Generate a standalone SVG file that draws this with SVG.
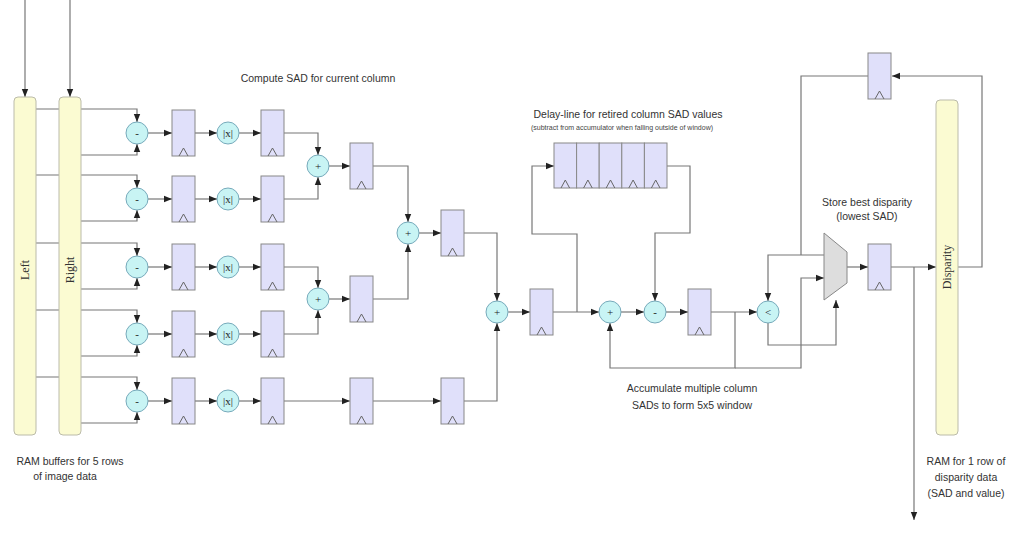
<svg xmlns="http://www.w3.org/2000/svg" width="1016" height="536" viewBox="0 0 1016 536">
<defs>
<marker id="a" viewBox="0 0 10 10" refX="10" refY="5" markerWidth="8" markerHeight="8" markerUnits="userSpaceOnUse" orient="auto"><path d="M0,1 L10,5 L0,9 z" fill="#222"/></marker>
<g id="reg"><rect x="0" y="0" width="23" height="46" fill="#e0e0fa" stroke="#888" stroke-width="1"/><path d="M7,46 L11.5,38 L16,46" fill="none" stroke="#666"/></g>
<g id="cell"><rect x="0" y="0" width="22.6" height="45" fill="#e0e0fa" stroke="#888" stroke-width="1"/><path d="M7,45 L11.3,37 L15.6,45" fill="none" stroke="#666"/></g>
</defs>
<style>
.w{fill:none;stroke:#777;stroke-width:1.2}
.c{fill:#c8f4f4;stroke:#7ab;stroke-width:1}
.bar{fill:#fbfbd2;stroke:#bba;stroke-width:1}
.t{font-family:"Liberation Sans",Arial,sans-serif;font-size:10.5px;fill:#333;text-anchor:middle}
.s{font-family:"Liberation Sans",Arial,sans-serif;font-size:7px;fill:#444;text-anchor:middle}
.o{font-family:"Liberation Serif",serif;font-size:11px;fill:#222;text-anchor:middle;dominant-baseline:central}
.v{font-family:"Liberation Serif",serif;font-size:12px;fill:#333;text-anchor:middle;dominant-baseline:central}
</style>
<rect width="1016" height="536" fill="#fff"/>
<g id="connectors" class="w" marker-end="url(#a)">
<path d="M25,0V97"/><path d="M70,0V97"/>
<path d="M36,109H137V122"/><path d="M81,155H137V144"/>
<path d="M36,175H137V188"/><path d="M81,221H137V210"/>
<path d="M36,243H137V256"/><path d="M81,289H137V278"/>
<path d="M36,310H137V323"/><path d="M81,356H137V345"/>
<path d="M36,377H137V390"/><path d="M81,423H137V412"/>
<path d="M148,133H172"/><path d="M195,133H217"/><path d="M239,133H261"/>
<path d="M148,199H172"/><path d="M195,199H217"/><path d="M239,199H261"/>
<path d="M148,267H172"/><path d="M195,267H217"/><path d="M239,267H261"/>
<path d="M148,334H172"/><path d="M195,334H217"/><path d="M239,334H261"/>
<path d="M148,401H172"/><path d="M195,401H217"/><path d="M239,401H261"/>
<path d="M284,133H318V155"/><path d="M284,199H318V177"/>
<path d="M284,267H318V288"/><path d="M284,334H318V310"/>
<path d="M329,166H350"/><path d="M329,299H350"/>
<path d="M373,166H408V222"/><path d="M373,299H408V244"/>
<path d="M284,401H350"/><path d="M373,401H441"/>
<path d="M419,233H441"/>
<path d="M464,233H497V301"/><path d="M464,401H497V323"/>
<path d="M508,312H530"/>
<path d="M553,312H599"/>
<path d="M577,312V234H532V166H554"/>
<path d="M667,166H690V233H655V301"/>
<path d="M621,312H644"/>
<path d="M666,312H688"/>
<path d="M711,312H757"/>
<path d="M735,312V368H610V323"/>
<path d="M735,368H801V278H824"/>
<path d="M824,255H768V301"/>
<path d="M801,255V76H868" marker-end="none"/>
<path d="M768,323V345H836V300"/>
<path d="M847,267H868"/>
<path d="M891,267H936"/>
<path d="M914,267V520"/>
<path d="M958,267H982V76H892"/>
</g>
<g id="left"><rect class="bar" x="14" y="97" width="22" height="338" rx="4"/><text class="v" transform="translate(25,270) rotate(-90)">Left</text></g>
<g id="right"><rect class="bar" x="59" y="97" width="22" height="338" rx="4"/><text class="v" transform="translate(70,270) rotate(-90)">Right</text></g>
<g id="disparity"><rect class="bar" x="936" y="100" width="22" height="335" rx="4"/><text class="v" transform="translate(947,267) rotate(-90)">Disparity</text></g>
<g id="subs">
<circle class="c" cx="137" cy="133" r="11"/><text class="o" x="137" y="133">-</text>
<circle class="c" cx="137" cy="199" r="11"/><text class="o" x="137" y="199">-</text>
<circle class="c" cx="137" cy="267" r="11"/><text class="o" x="137" y="267">-</text>
<circle class="c" cx="137" cy="334" r="11"/><text class="o" x="137" y="334">-</text>
<circle class="c" cx="137" cy="401" r="11"/><text class="o" x="137" y="401">-</text>
</g>
<g id="abs">
<circle class="c" cx="228" cy="133" r="11"/><text class="o" x="228" y="133">|x|</text>
<circle class="c" cx="228" cy="199" r="11"/><text class="o" x="228" y="199">|x|</text>
<circle class="c" cx="228" cy="267" r="11"/><text class="o" x="228" y="267">|x|</text>
<circle class="c" cx="228" cy="334" r="11"/><text class="o" x="228" y="334">|x|</text>
<circle class="c" cx="228" cy="401" r="11"/><text class="o" x="228" y="401">|x|</text>
</g>
<g id="regs">
<use href="#reg" x="172" y="110"/><use href="#reg" x="172" y="176"/><use href="#reg" x="172" y="244"/><use href="#reg" x="172" y="311"/><use href="#reg" x="172" y="378"/>
<use href="#reg" x="261" y="110"/><use href="#reg" x="261" y="176"/><use href="#reg" x="261" y="244"/><use href="#reg" x="261" y="311"/><use href="#reg" x="261" y="378"/>
<use href="#reg" x="350" y="143"/><use href="#reg" x="350" y="276"/><use href="#reg" x="350" y="378"/>
<use href="#reg" x="441" y="210"/><use href="#reg" x="441" y="378"/>
<use href="#reg" x="530" y="289"/><use href="#reg" x="688" y="289"/>
<use href="#reg" x="868" y="53"/><use href="#reg" x="868" y="244"/>
</g>
<g id="delay">
<use href="#cell" x="554" y="143"/><use href="#cell" x="576.6" y="143"/><use href="#cell" x="599.2" y="143"/><use href="#cell" x="621.8" y="143"/><use href="#cell" x="644.4" y="143"/>
</g>
<g id="adders">
<circle class="c" cx="318" cy="166" r="11"/><text class="o" x="318" y="166">+</text>
<circle class="c" cx="318" cy="299" r="11"/><text class="o" x="318" y="299">+</text>
<circle class="c" cx="408" cy="233" r="11"/><text class="o" x="408" y="233">+</text>
<circle class="c" cx="497" cy="312" r="11"/><text class="o" x="497" y="312">+</text>
<circle class="c" cx="610" cy="312" r="11"/><text class="o" x="610" y="312">+</text>
<circle class="c" cx="655" cy="312" r="11"/><text class="o" x="655" y="312">-</text>
<circle class="c" cx="768" cy="312" r="11"/><text class="o" x="768" y="312">&lt;</text>
</g>
<g id="mux"><path d="M824,233 L847,252 L847,283 L824,300 Z" fill="#ddd" stroke="#888"/></g>
<g id="labels">
<text class="t" x="318" y="82">Compute SAD for current column</text>
<text class="t" x="628" y="118">Delay-line for retired column SAD values</text>
<text class="s" x="622" y="130">(subtract from accumulator when falling outside of window)</text>
<text class="t" x="867" y="206">Store best disparity</text>
<text class="t" x="867" y="220">(lowest SAD)</text>
<text class="t" x="692" y="392">Accumulate multiple column</text>
<text class="t" x="692" y="409">SADs to form 5x5 window</text>
<text class="t" x="70" y="465">RAM buffers for 5 rows</text>
<text class="t" x="65" y="480">of image data</text>
<text class="t" x="966" y="465">RAM for 1 row of</text>
<text class="t" x="966" y="481">disparity data</text>
<text class="t" x="966" y="497">(SAD and value)</text>
</g>
</svg>
